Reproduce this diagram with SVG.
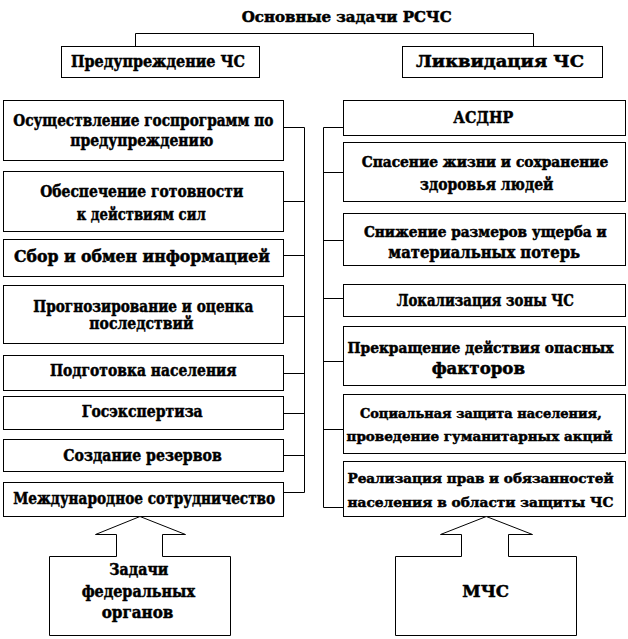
<svg xmlns="http://www.w3.org/2000/svg" width="628" height="639" viewBox="0 0 628 639">
<style>
.b{fill:#fff;stroke:#000;stroke-width:1}
text{font-family:"DejaVu Serif",serif;font-weight:bold;font-size:16px;fill:#000;text-anchor:middle;stroke:#000;stroke-width:0.5px}
.s{font-size:14.5px}
.s2{font-size:13.5px}
.c{fill:none;stroke:#000;stroke-width:1}
</style>
<rect width="628" height="639" fill="#fff"/>
<g id="connectors">
<path class="c" d="M135.5,47 V33.5 H533.5 V47"/>
<path class="c" d="M304.5,127.5 V492.5 M284,127.5 H304.5 M284,201.5 H304.5 M284,255.5 H304.5 M284,316.5 H304.5 M284,373.5 H304.5 M284,413.5 H304.5 M284,455.5 H304.5 M284,492.5 H304.5"/>
<path class="c" d="M323.5,127.5 V507.5 M323.5,127.5 H343 M323.5,172.5 H343 M323.5,240.5 H343 M323.5,298.5 H343 M323.5,361.5 H343 M323.5,429.5 H343 M323.5,507.5 H343"/>
</g>
<g id="title"><text x="346.7" y="22.3" style="font-size:15px" textLength="210" lengthAdjust="spacingAndGlyphs">Основные задачи РСЧС</text></g>
<g id="prevention"><rect class="b" x="61.5" y="46.5" width="198" height="31"/><text x="158" y="66.7" textLength="174" lengthAdjust="spacingAndGlyphs">Предупреждение ЧС</text></g>
<g id="liquidation"><rect class="b" x="402.5" y="46.5" width="200" height="31"/><text x="500" y="66.7" textLength="168" lengthAdjust="spacingAndGlyphs">Ликвидация ЧС</text></g>
<g id="l1"><rect class="b" x="3.5" y="100.5" width="280" height="60"/><text x="143.3" y="125.7" textLength="260" lengthAdjust="spacingAndGlyphs">Осуществление госпрограмм по</text><text x="141.7" y="145.5" textLength="143" lengthAdjust="spacingAndGlyphs">предупреждению</text></g>
<g id="l2"><rect class="b" x="3.5" y="171.5" width="280" height="60"/><text x="141.7" y="197.3" textLength="203" lengthAdjust="spacingAndGlyphs">Обеспечение готовности</text><text x="141.2" y="220" textLength="129" lengthAdjust="spacingAndGlyphs">к действиям сил</text></g>
<g id="l3"><rect class="b" x="3.5" y="239.5" width="280" height="37"/><text x="142" y="261.7" textLength="256" lengthAdjust="spacingAndGlyphs">Сбор и обмен информацией</text></g>
<g id="l4"><rect class="b" x="3.5" y="285.5" width="280" height="58"/><text x="143.3" y="311.7" textLength="220" lengthAdjust="spacingAndGlyphs">Прогнозирование и оценка</text><text x="141.3" y="329.3" textLength="104" lengthAdjust="spacingAndGlyphs">последствий</text></g>
<g id="l5"><rect class="b" x="3.5" y="355.5" width="280" height="35"/><text x="143.3" y="376" textLength="186.7" lengthAdjust="spacingAndGlyphs">Подготовка населения</text></g>
<g id="l6"><rect class="b" x="3.5" y="396.5" width="280" height="33"/><text x="142.2" y="417" textLength="121" lengthAdjust="spacingAndGlyphs">Госэкспертиза</text></g>
<g id="l7"><rect class="b" x="3.5" y="439.5" width="280" height="32"/><text x="142.5" y="460.5" textLength="158.4" lengthAdjust="spacingAndGlyphs">Создание резервов</text></g>
<g id="l8"><rect class="b" x="3.5" y="482.5" width="280" height="34"/><text x="144.2" y="503.5" textLength="262" lengthAdjust="spacingAndGlyphs">Международное сотрудничество</text></g>
<g id="r1"><rect class="b" x="343.5" y="100.5" width="282" height="35"/><text x="483.3" y="123.3" textLength="60" lengthAdjust="spacingAndGlyphs">АСДНР</text></g>
<g id="r2"><rect class="b" x="343.5" y="142.5" width="282" height="59"/><text class="s" x="485" y="166.7" textLength="246.6" lengthAdjust="spacingAndGlyphs">Спасение жизни и сохранение</text><text x="486.7" y="190" textLength="133.3" lengthAdjust="spacingAndGlyphs">здоровья людей</text></g>
<g id="r3"><rect class="b" x="343.5" y="213.5" width="282" height="52"/><text class="s" x="485.3" y="236.7" textLength="242.7" lengthAdjust="spacingAndGlyphs">Снижение размеров ущерба и</text><text x="484.2" y="258.3" textLength="191.7" lengthAdjust="spacingAndGlyphs">материальных потерь</text></g>
<g id="r4"><rect class="b" x="343.5" y="284.5" width="282" height="32"/><text x="485.3" y="306" textLength="177.3" lengthAdjust="spacingAndGlyphs">Локализация зоны ЧС</text></g>
<g id="r5"><rect class="b" x="343.5" y="326.5" width="282" height="59"/><text class="s" x="480.5" y="352.7" textLength="266" lengthAdjust="spacingAndGlyphs">Прекращение действия опасных</text><text x="478.3" y="374" textLength="93.3" lengthAdjust="spacingAndGlyphs">факторов</text></g>
<g id="r6"><rect class="b" x="343.5" y="394.5" width="282" height="59"/><text class="s2" x="480.8" y="418.3" textLength="241.7" lengthAdjust="spacingAndGlyphs">Социальная  защита населения,</text><text class="s2" x="479.5" y="441.3" textLength="266" lengthAdjust="spacingAndGlyphs">проведение  гуманитарных  акций</text></g>
<g id="r7"><rect class="b" x="343.5" y="461.5" width="282" height="55"/><text class="s2" x="480.5" y="483.3" textLength="266" lengthAdjust="spacingAndGlyphs">Реализация прав и обязанностей</text><text class="s2" x="480.5" y="506.7" textLength="266" lengthAdjust="spacingAndGlyphs">населения в области защиты ЧС</text></g>
<g id="federal"><path class="b" d="M49.5,556.5 H116.5 V534.5 H95.5 L140,516.5 L185.5,534.5 H162.5 V556.5 H230.5 V635.5 H49.5 Z"/><text x="138.8" y="575" textLength="59" lengthAdjust="spacingAndGlyphs">Задачи</text><text x="138.3" y="596.7" textLength="113.3" lengthAdjust="spacingAndGlyphs">федеральных</text><text x="137.5" y="618.3" textLength="71.6" lengthAdjust="spacingAndGlyphs">органов</text></g>
<g id="mchs"><path class="b" d="M395.5,556.5 H461.5 V534.5 H440.5 L486.3,516.5 L532.5,534.5 H508.5 V556.5 H576.5 V635.5 H395.5 Z"/><text x="485.7" y="597.3" textLength="46.7" lengthAdjust="spacingAndGlyphs">МЧС</text></g>
</svg>
